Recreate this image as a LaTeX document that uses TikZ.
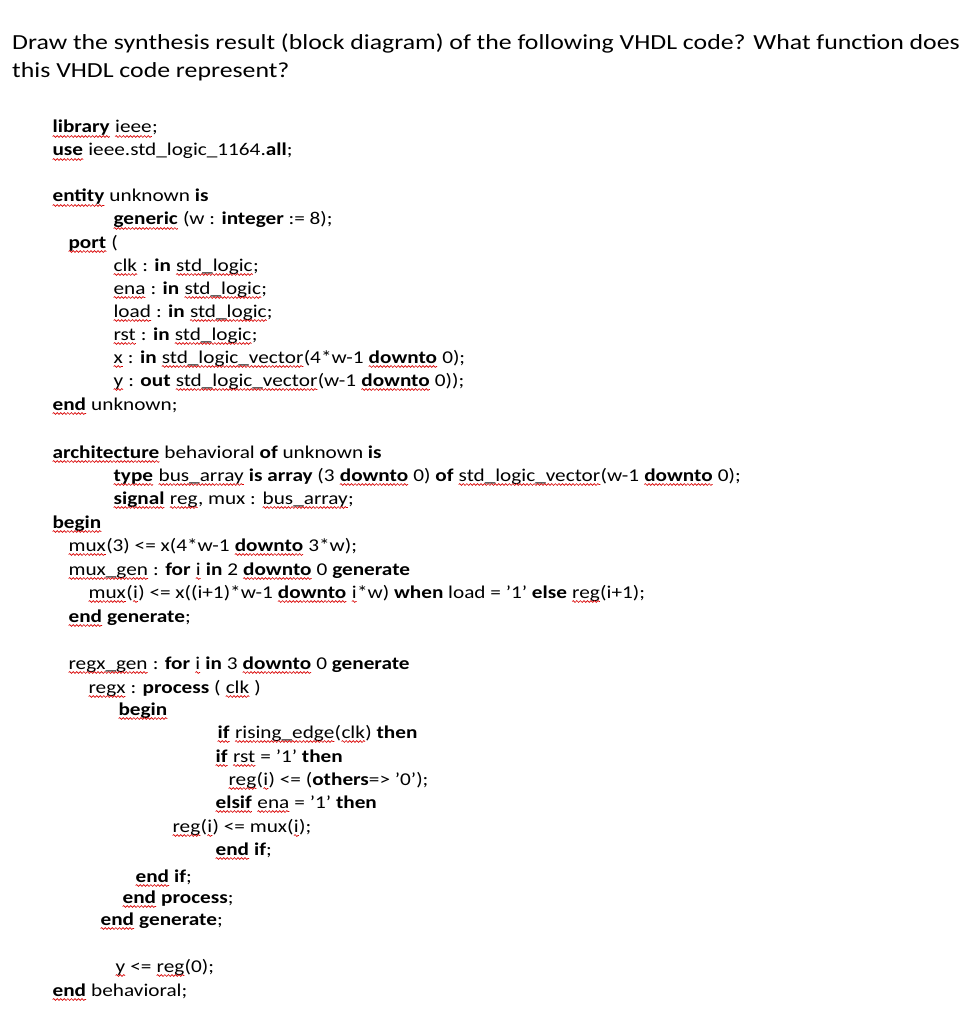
\documentclass[tikz,border=0pt]{standalone}
\usepackage{fontspec}
\setmainfont{Carlito}
\usetikzlibrary{decorations.pathmorphing}
\newcommand{\sq}[1]{\begin{tikzpicture}[baseline=(sqt.base)]\node[inner sep=0pt,outer sep=0pt,anchor=base west] (sqt) at (0,0) {\strut#1};\draw[red!85!black,line width=0.6pt,decorate,decoration={snake,amplitude=0.9pt,segment length=3pt}] ([yshift=-3.5pt]sqt.base west) -- ([yshift=-3.5pt]sqt.base east);\end{tikzpicture}}
\begin{document}
\begin{tikzpicture}[x=1pt,y=1pt,
  code/.style={anchor=base west,inner sep=0pt,xscale=1.18,transform shape,font=\fontsize{18}{21}\selectfont},
  head/.style={anchor=base west,inner sep=0pt,xscale=1.2,transform shape,font=\fontsize{21.5}{26}\selectfont}]
\useasboundingbox[fill=white] (0,0) rectangle (973,-1024);
\node[head] (h1) at (12,-50) {Draw the synthesis result (block diagram) of the following VHDL code? What function does};
\node[head] (h2) at (12,-78) {this VHDL code represent?};
\node[code] (l1) at (52,-133) {\sq{\textbf{library}} \sq{ieee};};
\node[code] (l2) at (52,-156) {\sq{\textbf{use}} ieee.std\_logic\_1164.\textbf{all};};
\node[code] (l3) at (52,-202) {\sq{\textbf{entity}} unknown \textbf{is}};
\node[code] (l4) at (113,-225) {\sq{\textbf{generic}} (w : \textbf{integer} := 8);};
\node[code] (l5) at (68,-248) {\sq{\textbf{port}} (};
\node[code] (l6) at (113,-271) {\sq{clk} : \textbf{in} \sq{std\_logic};};
\node[code] (l7) at (113,-294) {\sq{ena} : \textbf{in} \sq{std\_logic};};
\node[code] (l8) at (113,-317) {\sq{load} : \textbf{in} \sq{std\_logic};};
\node[code] (l9) at (113,-340) {\sq{rst} : \textbf{in} \sq{std\_logic};};
\node[code] (l10) at (113,-363) {\sq{x} : \textbf{in} \sq{std\_logic\_vector}(4*w-1 \sq{\textbf{downto}} 0);};
\node[code] (l11) at (113,-386) {\sq{y} : \textbf{out} \sq{std\_logic\_vector}(w-1 \sq{\textbf{downto}} 0));};
\node[code] (l12) at (52,-410) {\sq{\textbf{end}} unknown;};
\node[code] (l13) at (52,-458) {\sq{\textbf{architecture}} behavioral \textbf{of} unknown \textbf{is}};
\node[code] (l14) at (113,-481) {\sq{\textbf{type}} \sq{bus\_array} \textbf{is array} (3 \sq{\textbf{downto}} 0) \textbf{of} \sq{std\_logic\_vector}(w-1 \sq{\textbf{downto}} 0);};
\node[code] (l15) at (113,-504) {\sq{\textbf{signal}} \sq{reg}, mux : \sq{bus\_array};};
\node[code] (l16) at (52,-528) {\sq{\textbf{begin}}};
\node[code] (l17) at (68,-551) {\sq{mux}(3) <= x(4*w-1 \sq{\textbf{downto}} 3*w);};
\node[code] (l18) at (68,-575) {\sq{mux\_gen} : \textbf{for} \sq{i} \textbf{in} 2 \sq{\textbf{downto}} 0 \textbf{generate}};
\node[code] (l19) at (88,-598) {\sq{mux}(\sq{i}) <= x((i+1)*w-1 \sq{\textbf{downto}} \sq{i}*w) \textbf{when} load = '1' \textbf{else} \sq{reg}(i+1);};
\node[code] (l20) at (68,-622) {\sq{\textbf{end}} \textbf{generate};};
\node[code] (l21) at (68,-669) {\sq{regx\_gen} : \textbf{for} \sq{i} \textbf{in} 3 \sq{\textbf{downto}} 0 \textbf{generate}};
\node[code] (l22) at (88,-693) {\sq{regx} : \textbf{process} ( \sq{clk} )};
\node[code] (l23) at (118,-715) {\sq{\textbf{begin}}};
\node[code] (l24) at (217,-738) {\sq{\textbf{if}} \sq{rising\_edge}(\sq{clk}) \textbf{then}};
\node[code] (l25) at (215,-762) {\sq{\textbf{if}} \sq{rst} = '1' \textbf{then}};
\node[code] (l26) at (228,-785) {\sq{reg}(\sq{i}) <= (\textbf{others}=> '0');};
\node[code] (l27) at (215,-808) {\sq{\textbf{elsif}} \sq{ena} = '1' \textbf{then}};
\node[code] (l28) at (172,-832) {\sq{reg}(\sq{i}) <= mux(\sq{i});};
\node[code] (l29) at (215,-855) {\sq{\textbf{end}} \textbf{if};};
\node[code] (l30) at (135,-882) {\sq{\textbf{end}} \textbf{if};};
\node[code] (l31) at (122,-903) {\sq{\textbf{end}} \textbf{process};};
\node[code] (l32) at (100,-925) {\sq{\textbf{end}} \textbf{generate};};
\node[code] (l33) at (115,-972) {\sq{y} <= \sq{reg}(0);};
\node[code] (l34) at (52,-996) {\sq{\textbf{end}} behavioral;};
\end{tikzpicture}
\end{document}
